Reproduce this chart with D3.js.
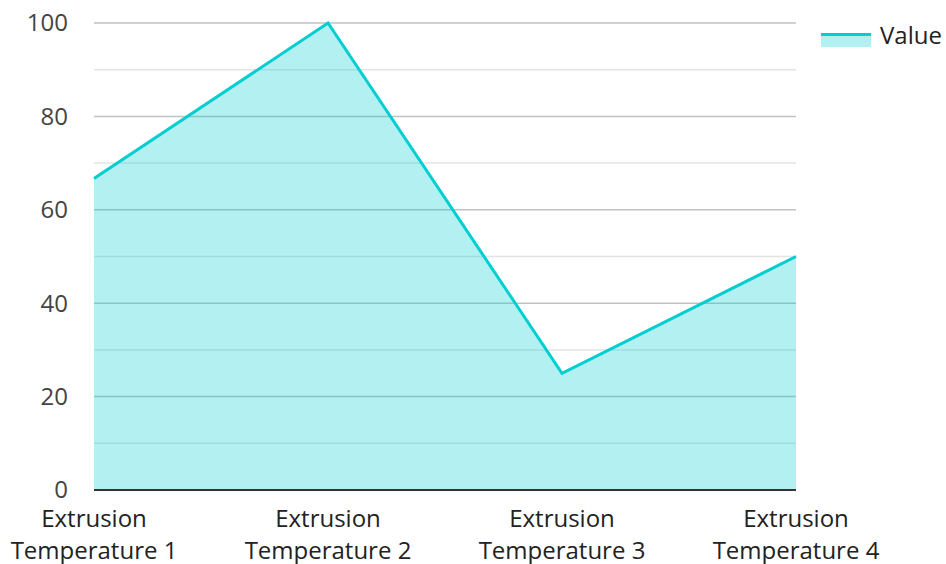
<!DOCTYPE html>
<html>
<head>
<meta charset="utf-8">
<script src="https://cdn.jsdelivr.net/npm/d3@7"></script>
<style>
  body { margin: 0; background: #fff; font-family: 'Open Sans', 'Noto Sans', sans-serif; }
</style>
</head>
<body>
<div id="chart"></div>
<script>
const categories = ['Extrusion Temperature 1', 'Extrusion Temperature 2', 'Extrusion Temperature 3', 'Extrusion Temperature 4'];
const values = [66.7, 100, 25, 50];
const yTicks = [0, 20, 40, 60, 80, 100];
const minorTicks = [10, 30, 50, 70, 90];
const seriesName = 'Value';

const W = 946, H = 564;
const margin = { top: 23, right: 150, bottom: 74, left: 94 };
const width = W - margin.left - margin.right;
const height = H - margin.top - margin.bottom;
const color = '#00CED1';

const svg = d3.select('#chart').append('svg')
    .attr('width', W)
    .attr('height', H);

const g = svg.append('g')
    .attr('transform', `translate(${margin.left},${margin.top})`);

const data = categories.map((c, i) => ({ cat: c, value: values[i] }));

const x = d3.scalePoint().domain(categories).range([0, width]);
const y = d3.scaleLinear().domain([0, 100]).range([height, 0]);

// gridlines (minor then major)
g.selectAll('.minor').data(minorTicks).enter().append('line')
    .attr('x1', 0).attr('x2', width)
    .attr('y1', d => y(d)).attr('y2', d => y(d))
    .attr('stroke', '#e4e4e4').attr('stroke-width', 1.5);

g.selectAll('.major').data(yTicks.filter(d => d > 0)).enter().append('line')
    .attr('x1', 0).attr('x2', width)
    .attr('y1', d => y(d)).attr('y2', d => y(d))
    .attr('stroke', '#c2c2c2').attr('stroke-width', 1.5);

// area + line
const area = d3.area()
    .x(d => x(d.cat))
    .y0(y(0))
    .y1(d => y(d.value));

const line = d3.line()
    .x(d => x(d.cat))
    .y(d => y(d.value));

g.append('path')
    .datum(data)
    .attr('d', area)
    .attr('fill', color)
    .attr('fill-opacity', 0.3);

g.append('path')
    .datum(data)
    .attr('d', line)
    .attr('fill', 'none')
    .attr('stroke', color)
    .attr('stroke-width', 3);

// y axis labels
g.selectAll('.ylab').data(yTicks).enter().append('text')
    .attr('x', -26)
    .attr('y', d => y(d))
    .attr('dy', '0.35em')
    .attr('text-anchor', 'end')
    .style('font-size', '24px')
    .style('fill', '#444')
    .text(d => d);

// baseline
g.append('line')
    .attr('x1', 0).attr('x2', width)
    .attr('y1', height).attr('y2', height)
    .attr('stroke', '#333').attr('stroke-width', 2);

// x labels, two lines each
const xl = g.selectAll('.xlab').data(categories).enter().append('text')
    .attr('text-anchor', 'middle')
    .style('font-size', '24px')
    .style('fill', '#222');
xl.append('tspan')
    .attr('x', d => x(d))
    .attr('y', height + 37)
    .text(d => d.split(' ')[0]);
xl.append('tspan')
    .attr('x', d => x(d))
    .attr('y', height + 69)
    .text(d => d.split(' ').slice(1).join(' '));

// legend
const legend = svg.append('g').attr('transform', 'translate(821, 33)');
legend.append('rect')
    .attr('x', 0).attr('y', 0)
    .attr('width', 50).attr('height', 14)
    .attr('fill', color).attr('fill-opacity', 0.3);
legend.append('line')
    .attr('x1', 0).attr('x2', 50)
    .attr('y1', 1.5).attr('y2', 1.5)
    .attr('stroke', color).attr('stroke-width', 3);
legend.append('text')
    .attr('x', 59).attr('y', 3)
    .attr('dy', '0.35em')
    .style('font-size', '24px')
    .style('fill', '#222')
    .text(seriesName);
</script>
</body>
</html>
